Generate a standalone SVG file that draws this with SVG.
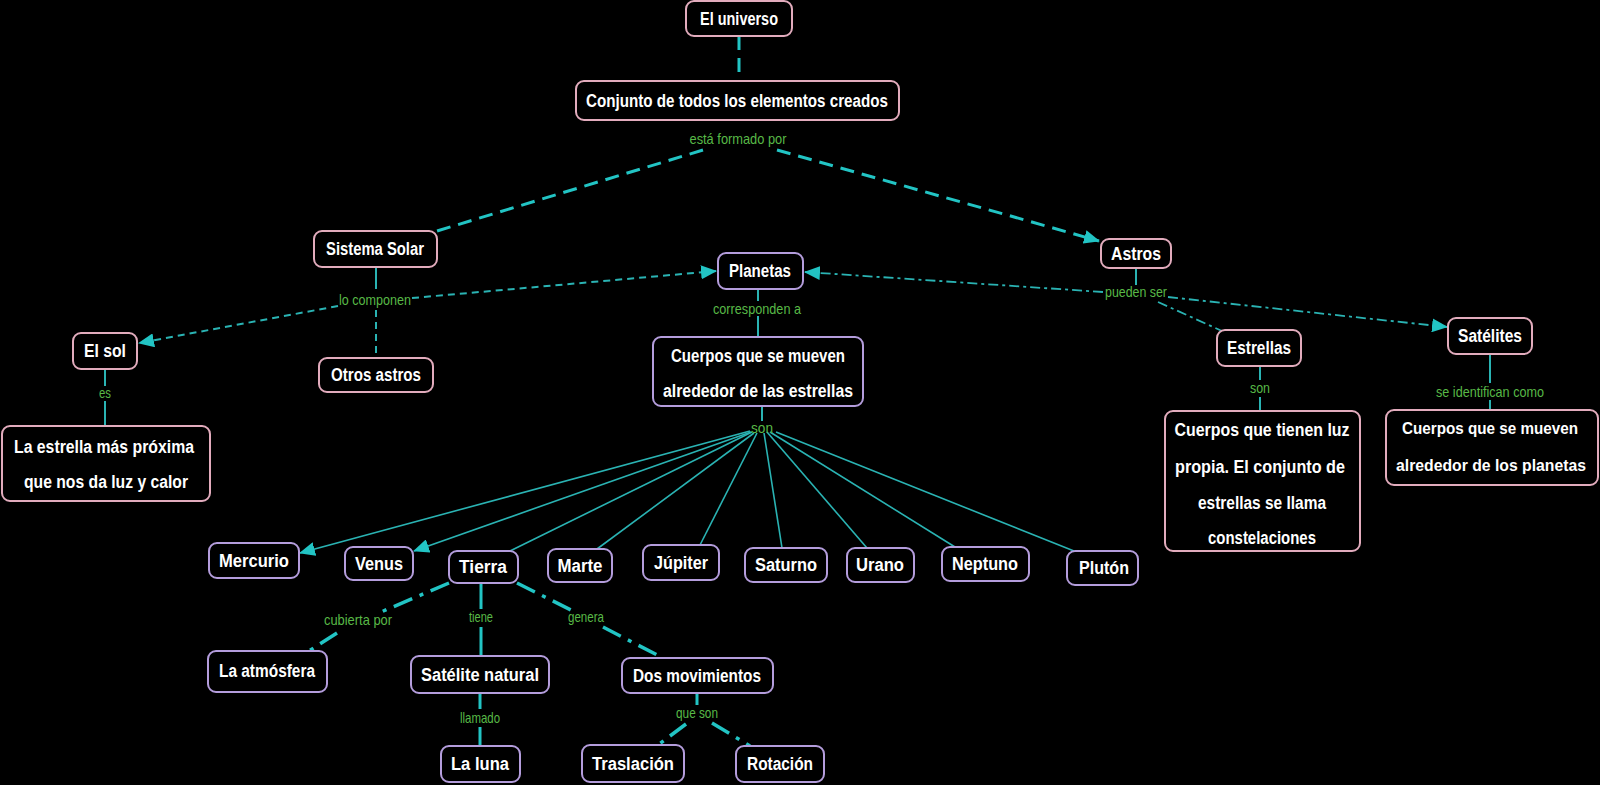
<svg xmlns="http://www.w3.org/2000/svg" width="1600" height="785" viewBox="0 0 1600 785">
<style>
.bg{fill:#000}
.np rect{fill:#000;stroke:#e2acbd;stroke-width:2}
.nv rect{fill:#000;stroke:#b49ddc;stroke-width:2}
.nt{font-family:"Liberation Sans",Arial,sans-serif;font-weight:bold;font-size:18px;fill:#fff;text-anchor:middle}
.sm{font-size:16px}
.lb{font-family:"Liberation Sans",Arial,sans-serif;font-size:15px;fill:#58b947;text-anchor:middle}
.thin{stroke:#2ab3b3;stroke-width:1.6;fill:none}
.sol{stroke:#2ab3b3;stroke-width:2;fill:none}
.thk{stroke:#22c4c4;stroke-width:3;fill:none}
.dsh{stroke:#22c4c4;stroke-width:3;stroke-dasharray:14 8;fill:none}
.dsm{stroke:#2ab3b3;stroke-width:2;stroke-dasharray:7 5;fill:none}
.dd{stroke:#2ab3b3;stroke-width:1.8;stroke-dasharray:10 4 3 4;fill:none}
.ddk{stroke:#22c4c4;stroke-width:3.5;stroke-dasharray:20 8 4 8;fill:none}
</style>
<defs>
<marker id="ah" markerUnits="userSpaceOnUse" markerWidth="16" markerHeight="14" refX="15" refY="7" orient="auto">
<path d="M0,0 L16,7 L0,14 Z" fill="#22c4c4"/>
</marker>
</defs>
<rect class="bg" x="0" y="0" width="1600" height="785"/>

<g id="connectors">
<line class="dsh" x1="739" y1="36" x2="739" y2="81"/>
<line class="dsh" x1="703" y1="150" x2="437" y2="231"/>
<line class="dsh" x1="777" y1="150" x2="1099" y2="241" marker-end="url(#ah)"/>
<line class="sol" x1="376" y1="267" x2="376" y2="289"/>
<line class="dsm" x1="338" y1="306" x2="139" y2="343" marker-end="url(#ah)"/>
<line class="dsm" x1="412" y1="298" x2="716" y2="271" marker-end="url(#ah)"/>
<line class="dsm" x1="376" y1="310" x2="376" y2="358"/>
<line class="sol" x1="758" y1="289" x2="758" y2="301"/>
<line class="sol" x1="758" y1="316" x2="758" y2="337"/>
<line class="sol" x1="762" y1="406" x2="762" y2="421"/>
<line class="thin" x1="750" y1="431" x2="300" y2="553" marker-end="url(#ah)"/>
<line class="thin" x1="751" y1="432" x2="414" y2="551" marker-end="url(#ah)"/>
<line class="thin" x1="752" y1="432" x2="510" y2="551"/>
<line class="thin" x1="754" y1="433" x2="597" y2="549"/>
<line class="thin" x1="757" y1="433" x2="700" y2="545"/>
<line class="thin" x1="764" y1="433" x2="782" y2="548"/>
<line class="thin" x1="767" y1="432" x2="867" y2="548"/>
<line class="thin" x1="770" y1="432" x2="955" y2="547"/>
<line class="thin" x1="776" y1="432" x2="1074" y2="551"/>
<line class="sol" x1="105" y1="369" x2="105" y2="386"/>
<line class="sol" x1="105" y1="401" x2="105" y2="426"/>
<line class="sol" x1="1136" y1="268" x2="1136" y2="285"/>
<line class="dd" x1="1103" y1="292" x2="805" y2="272" marker-end="url(#ah)"/>
<line class="dd" x1="1168" y1="297" x2="1447" y2="327" marker-end="url(#ah)"/>
<line class="dd" x1="1158" y1="302" x2="1222" y2="331"/>
<line class="sol" x1="1260" y1="366" x2="1260" y2="380"/>
<line class="sol" x1="1260" y1="397" x2="1260" y2="411"/>
<line class="sol" x1="1490" y1="354" x2="1490" y2="383"/>
<line class="sol" x1="1490" y1="400" x2="1490" y2="410"/>
<line class="ddk" x1="449" y1="583" x2="381" y2="612"/>
<line class="ddk" x1="337" y1="633" x2="309" y2="651"/>
<line class="thk" x1="481" y1="583" x2="481" y2="609"/>
<line class="thk" x1="481" y1="627" x2="481" y2="656"/>
<line class="ddk" x1="517" y1="583" x2="573" y2="611"/>
<line class="ddk" x1="603" y1="627" x2="663" y2="658"/>
<line class="thk" x1="480" y1="693" x2="480" y2="709"/>
<line class="thk" x1="480" y1="727" x2="480" y2="746"/>
<line class="thk" x1="697" y1="693" x2="697" y2="705"/>
<line class="ddk" x1="686" y1="724" x2="658" y2="745"/>
<line class="ddk" x1="712" y1="723" x2="750" y2="746"/>
</g>

<g id="labels">
<text class="lb" x="738" y="144" textLength="97" lengthAdjust="spacingAndGlyphs">está formado por</text>
<text class="lb" x="375" y="305" textLength="72" lengthAdjust="spacingAndGlyphs">lo componen</text>
<text class="lb" x="757" y="314" textLength="88" lengthAdjust="spacingAndGlyphs">corresponden a</text>
<text class="lb" x="762" y="433" textLength="22" lengthAdjust="spacingAndGlyphs">son</text>
<text class="lb" x="105" y="398" textLength="12" lengthAdjust="spacingAndGlyphs">es</text>
<text class="lb" x="1136" y="297" textLength="62" lengthAdjust="spacingAndGlyphs">pueden ser</text>
<text class="lb" x="1260" y="393" textLength="20" lengthAdjust="spacingAndGlyphs">son</text>
<text class="lb" x="1490" y="397" textLength="108" lengthAdjust="spacingAndGlyphs">se identifican como</text>
<text class="lb" x="358" y="625" textLength="68" lengthAdjust="spacingAndGlyphs">cubierta por</text>
<text class="lb" x="481" y="622" textLength="24" lengthAdjust="spacingAndGlyphs">tiene</text>
<text class="lb" x="586" y="622" textLength="36" lengthAdjust="spacingAndGlyphs">genera</text>
<text class="lb" x="480" y="723" textLength="40" lengthAdjust="spacingAndGlyphs">llamado</text>
<text class="lb" x="697" y="718" textLength="42" lengthAdjust="spacingAndGlyphs">que son</text>
</g>

<g id="n-universo" class="np"><rect x="686" y="1" width="106" height="35" rx="8"/><text class="nt" x="739" y="25" textLength="78" lengthAdjust="spacingAndGlyphs">El universo</text></g>
<g id="n-conjunto" class="np"><rect x="576" y="81" width="323" height="39" rx="8"/><text class="nt" x="737" y="107" textLength="302" lengthAdjust="spacingAndGlyphs">Conjunto de todos los elementos creados</text></g>
<g id="n-sistema" class="np"><rect x="314" y="231" width="123" height="36" rx="8"/><text class="nt" x="375" y="255" textLength="98" lengthAdjust="spacingAndGlyphs">Sistema Solar</text></g>
<g id="n-astros" class="np"><rect x="1101" y="239" width="70" height="29" rx="8"/><text class="nt" x="1136" y="260" textLength="50" lengthAdjust="spacingAndGlyphs">Astros</text></g>
<g id="n-planetas" class="nv"><rect x="718" y="253" width="85" height="36" rx="8"/><text class="nt" x="760" y="277" textLength="62" lengthAdjust="spacingAndGlyphs">Planetas</text></g>
<g id="n-elsol" class="np"><rect x="73" y="333" width="64" height="36" rx="8"/><text class="nt" x="105" y="357" textLength="42" lengthAdjust="spacingAndGlyphs">El sol</text></g>
<g id="n-otros" class="np"><rect x="319" y="358" width="114" height="34" rx="8"/><text class="nt" x="376" y="381" textLength="90" lengthAdjust="spacingAndGlyphs">Otros astros</text></g>
<g id="n-cuerpos-estrellas" class="nv"><rect x="653" y="337" width="210" height="69" rx="8"/><text class="nt" x="758" y="362" textLength="174" lengthAdjust="spacingAndGlyphs">Cuerpos que se mueven</text><text class="nt" x="758" y="397" textLength="190" lengthAdjust="spacingAndGlyphs">alrededor de las estrellas</text></g>
<g id="n-laestrella" class="np"><rect x="2" y="426" width="208" height="75" rx="8"/><text class="nt" x="104" y="453" textLength="180" lengthAdjust="spacingAndGlyphs">La estrella más próxima</text><text class="nt" x="106" y="488" textLength="164" lengthAdjust="spacingAndGlyphs">que nos da luz y calor</text></g>
<g id="n-estrellas" class="np"><rect x="1217" y="330" width="84" height="36" rx="8"/><text class="nt" x="1259" y="354" textLength="64" lengthAdjust="spacingAndGlyphs">Estrellas</text></g>
<g id="n-satelites" class="np"><rect x="1448" y="318" width="84" height="36" rx="8"/><text class="nt" x="1490" y="342" textLength="64" lengthAdjust="spacingAndGlyphs">Satélites</text></g>
<g id="n-cuerpos-luz" class="np"><rect x="1165" y="411" width="195" height="140" rx="8"/><text class="nt" x="1262" y="436" textLength="175" lengthAdjust="spacingAndGlyphs">Cuerpos que tienen luz</text><text class="nt" x="1260" y="473" textLength="170" lengthAdjust="spacingAndGlyphs">propia. El conjunto de</text><text class="nt" x="1262" y="509" textLength="128" lengthAdjust="spacingAndGlyphs">estrellas se llama</text><text class="nt" x="1262" y="544" textLength="108" lengthAdjust="spacingAndGlyphs">constelaciones</text></g>
<g id="n-cuerpos-planetas" class="np"><rect x="1386" y="410" width="212" height="75" rx="8"/><text class="nt sm" x="1490" y="434" textLength="176" lengthAdjust="spacingAndGlyphs">Cuerpos que se mueven</text><text class="nt sm" x="1491" y="471" textLength="190" lengthAdjust="spacingAndGlyphs">alrededor de los planetas</text></g>
<g id="n-mercurio" class="nv"><rect x="209" y="543" width="90" height="35" rx="8"/><text class="nt" x="254" y="567" textLength="70" lengthAdjust="spacingAndGlyphs">Mercurio</text></g>
<g id="n-venus" class="nv"><rect x="345" y="547" width="68" height="33" rx="8"/><text class="nt" x="379" y="570" textLength="48" lengthAdjust="spacingAndGlyphs">Venus</text></g>
<g id="n-tierra" class="nv"><rect x="449" y="551" width="69" height="32" rx="8"/><text class="nt" x="483" y="573" textLength="48" lengthAdjust="spacingAndGlyphs">Tierra</text></g>
<g id="n-marte" class="nv"><rect x="548" y="549" width="64" height="33" rx="8"/><text class="nt" x="580" y="572" textLength="45" lengthAdjust="spacingAndGlyphs">Marte</text></g>
<g id="n-jupiter" class="nv"><rect x="643" y="545" width="76" height="35" rx="8"/><text class="nt" x="681" y="569" textLength="54" lengthAdjust="spacingAndGlyphs">Júpiter</text></g>
<g id="n-saturno" class="nv"><rect x="745" y="548" width="82" height="34" rx="8"/><text class="nt" x="786" y="571" textLength="62" lengthAdjust="spacingAndGlyphs">Saturno</text></g>
<g id="n-urano" class="nv"><rect x="847" y="548" width="67" height="34" rx="8"/><text class="nt" x="880" y="571" textLength="48" lengthAdjust="spacingAndGlyphs">Urano</text></g>
<g id="n-neptuno" class="nv"><rect x="942" y="547" width="87" height="34" rx="8"/><text class="nt" x="985" y="570" textLength="66" lengthAdjust="spacingAndGlyphs">Neptuno</text></g>
<g id="n-pluton" class="nv"><rect x="1067" y="551" width="71" height="34" rx="8"/><text class="nt" x="1104" y="574" textLength="50" lengthAdjust="spacingAndGlyphs">Plutón</text></g>
<g id="n-atmosfera" class="nv"><rect x="208" y="651" width="119" height="41" rx="8"/><text class="nt" x="267" y="677" textLength="96" lengthAdjust="spacingAndGlyphs">La atmósfera</text></g>
<g id="n-satelite-natural" class="nv"><rect x="411" y="656" width="138" height="37" rx="8"/><text class="nt" x="480" y="681" textLength="118" lengthAdjust="spacingAndGlyphs">Satélite natural</text></g>
<g id="n-dos-movimientos" class="nv"><rect x="622" y="658" width="151" height="35" rx="8"/><text class="nt" x="697" y="682" textLength="128" lengthAdjust="spacingAndGlyphs">Dos movimientos</text></g>
<g id="n-laluna" class="nv"><rect x="441" y="746" width="79" height="36" rx="8"/><text class="nt" x="480" y="770" textLength="58" lengthAdjust="spacingAndGlyphs">La luna</text></g>
<g id="n-traslacion" class="nv"><rect x="582" y="745" width="102" height="37" rx="8"/><text class="nt" x="633" y="770" textLength="82" lengthAdjust="spacingAndGlyphs">Traslación</text></g>
<g id="n-rotacion" class="nv"><rect x="736" y="746" width="88" height="36" rx="8"/><text class="nt" x="780" y="770" textLength="66" lengthAdjust="spacingAndGlyphs">Rotación</text></g>
</svg>
